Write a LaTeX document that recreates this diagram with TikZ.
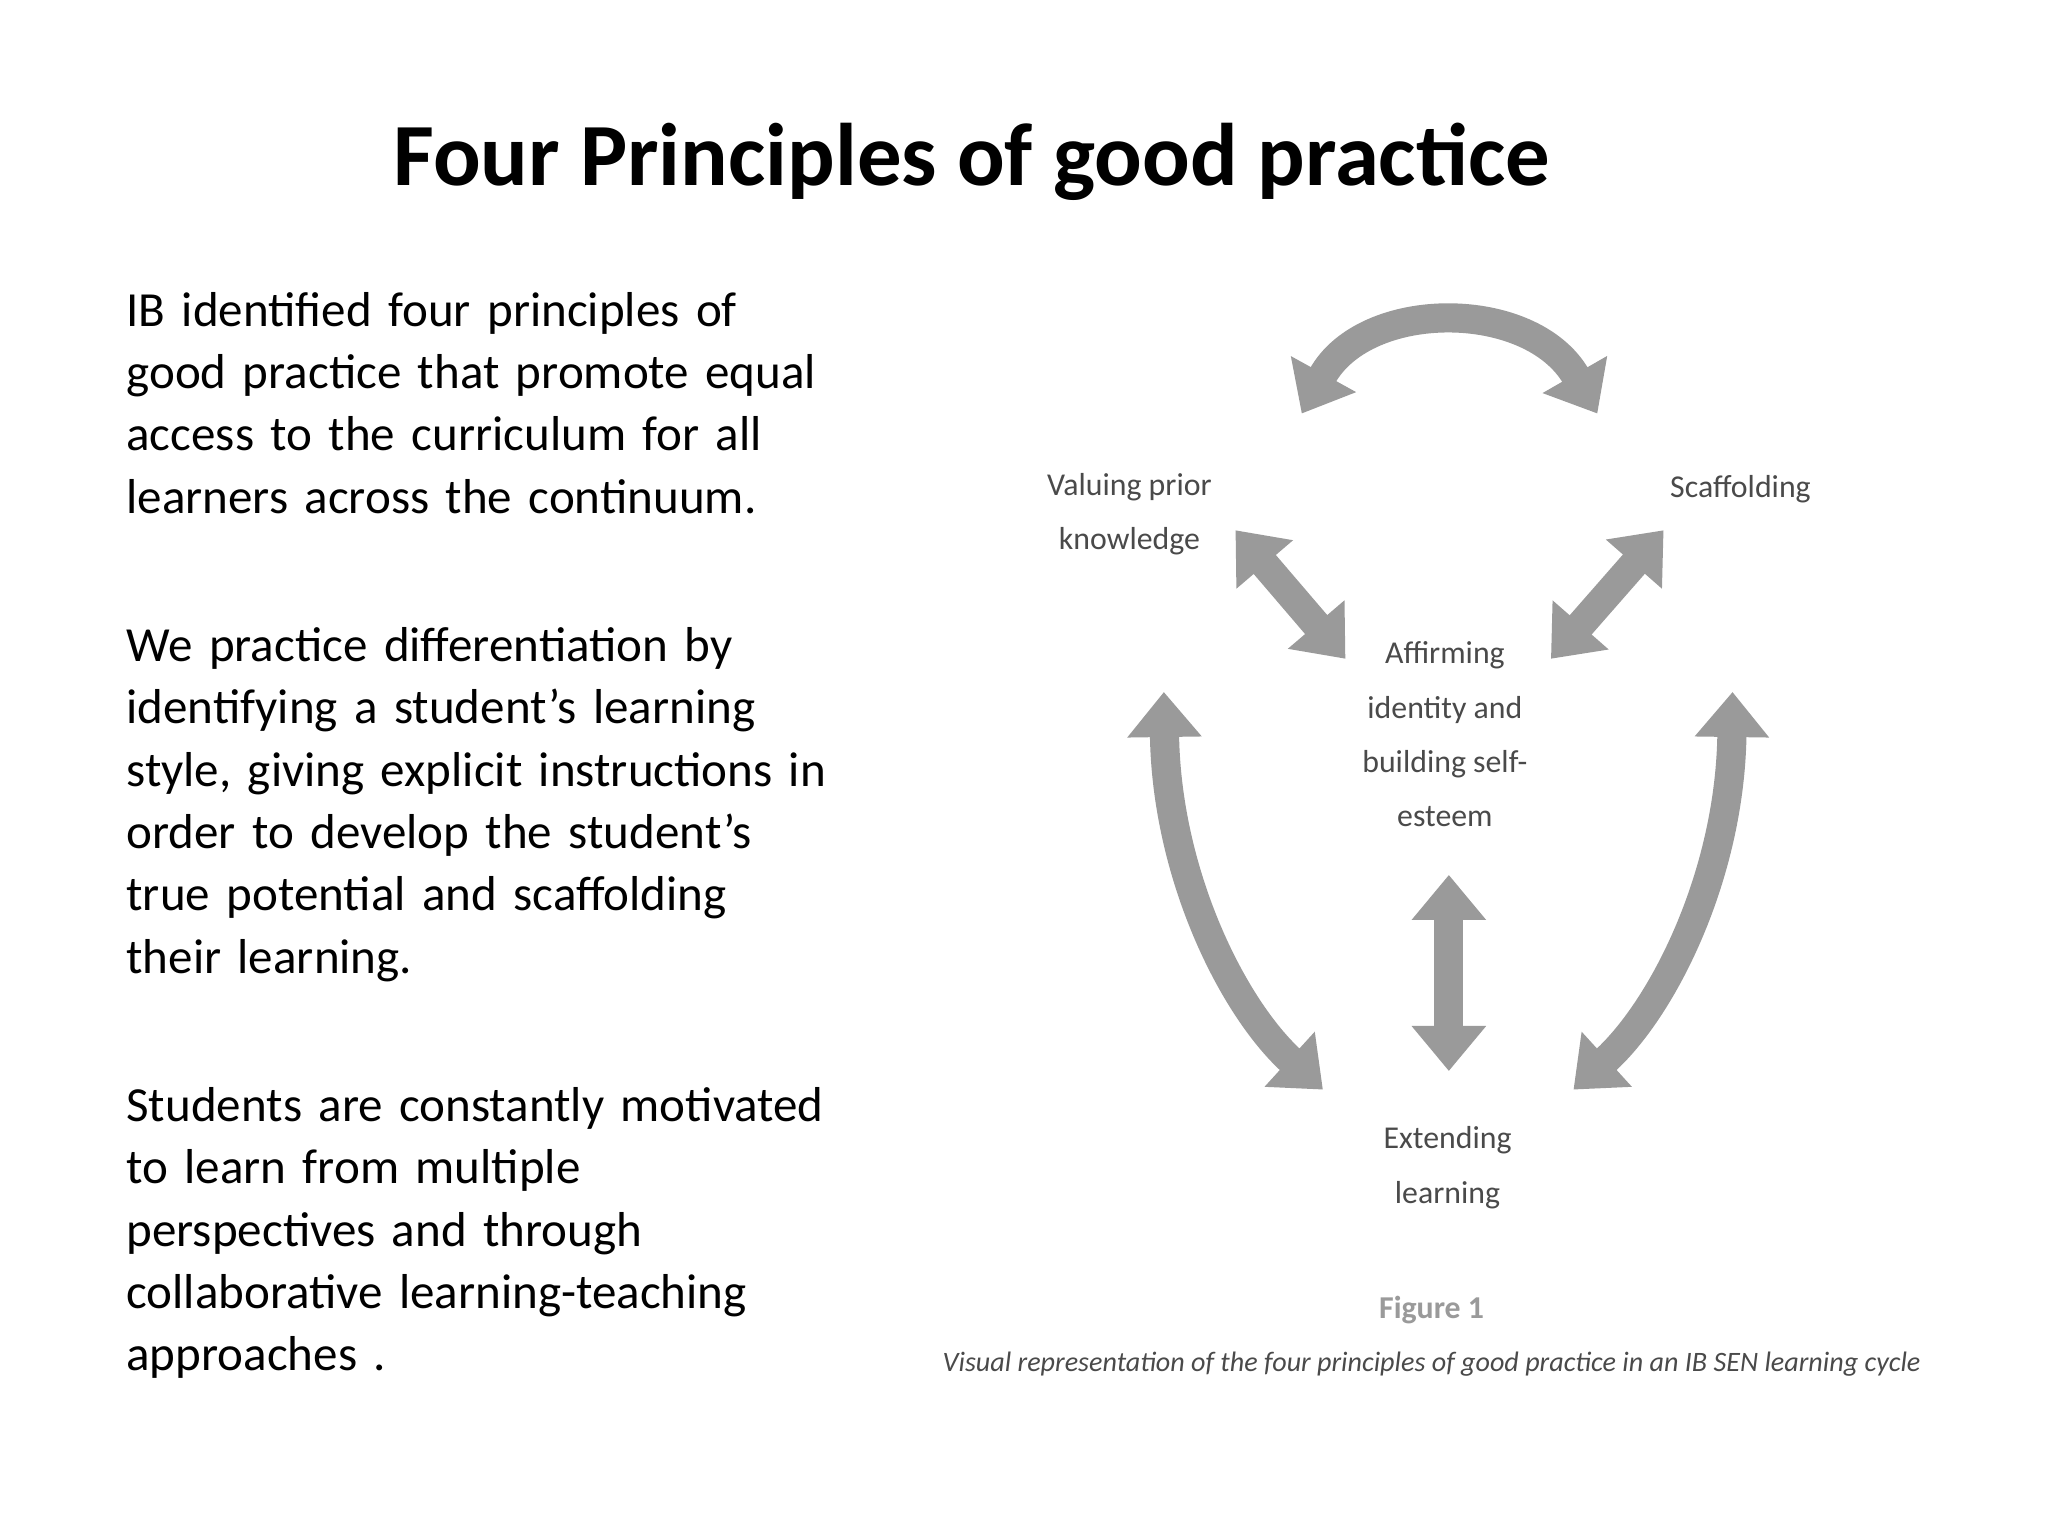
\documentclass[tikz,border=0pt]{standalone}
\usepackage{fontspec}
\setmainfont{Carlito}
\usetikzlibrary{arrows.meta}
\definecolor{arr}{HTML}{9A9A9A}
\definecolor{lab}{HTML}{4A4A4A}
\begin{document}
\begin{tikzpicture}[x=0.5pt,y=-0.5pt,
  bigarrow/.style={draw=arr,line width=11pt,{Triangle[width=27pt,length=17pt]}-{Triangle[width=27pt,length=17pt]}},
  body/.style={anchor=north west,align=left,text width=300pt,font=\fontsize{18.5}{23.5}\selectfont,inner sep=0pt},
  lbl/.style={align=center,text=lab,font=\fontsize{12}{20.5}\selectfont,inner sep=0pt}]
\useasboundingbox[fill=white] (0,0) rectangle (1545,1159);
\node[font=\fontsize{33.5}{38}\bfseries\selectfont] (title) at (733,122) {Four Principles of good practice};
\node[body] (p1) at (95,220) {IB identified four principles of\\good practice that promote equal\\access to the curriculum for all\\learners across the continuum.};
\node[body] (p2) at (95,473) {We practice differentiation by\\identifying a student’s learning\\style, giving explicit instructions in\\order to develop the student’s\\true potential and scaffolding\\their learning.};
\node[body] (p3) at (95,820) {Students are constantly motivated\\to learn from multiple\\perspectives and through\\collaborative learning-teaching\\approaches .};
% diagram labels
\node[lbl] (vp) at (852,388) {Valuing prior\\knowledge};
\node[lbl] (sc) at (1313,369) {Scaffolding};
\node[lbl] (af) at (1090,554) {Affirming\\identity and\\building self-\\esteem};
\node[lbl] (ex) at (1092,881) {Extending\\learning};
\node[lbl,font=\fontsize{12}{16}\bfseries\selectfont,text=arr] (fig) at (1080,988) {Figure 1};
\node[lbl,font=\fontsize{10.6}{16}\itshape\selectfont,text=lab] (cap) at (1080,1029) {Visual representation of the four principles of good practice in an IB SEN learning cycle};
% arrows
\coordinate (t1) at (982,312); \coordinate (t2) at (1205,312);
\draw[bigarrow] (t1) .. controls (1030,225) and (1155,225) .. (t2);
\coordinate (d1) at (932,400); \coordinate (d2) at (1015,497);
\draw[bigarrow] (d1) -- (d2);
\coordinate (e1) at (1255,400); \coordinate (e2) at (1170,497);
\draw[bigarrow] (e1) -- (e2);
\coordinate (v1) at (1093,660); \coordinate (v2) at (1093,808);
\draw[bigarrow] (v1) -- (v2);
\coordinate (l1) at (878,522); \coordinate (l2) at (998,822);
\draw[bigarrow] (l1) .. controls (880,660) and (930,760) .. (l2);
\coordinate (r1) at (1307,522); \coordinate (r2) at (1187,822);
\draw[bigarrow] (r1) .. controls (1305,660) and (1255,760) .. (r2);
\end{tikzpicture}
\end{document}
